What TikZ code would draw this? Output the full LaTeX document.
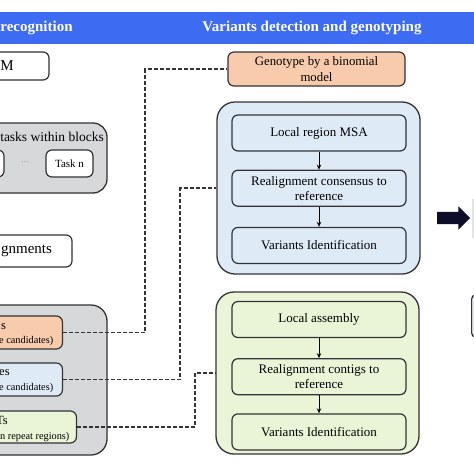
\documentclass[tikz,border=0pt]{standalone}
\usepackage{fontspec}
\setmainfont{Liberation Serif}
\usetikzlibrary{positioning,shapes.arrows,arrows.meta}
\definecolor{hdrblue}{RGB}{61,107,242}
\definecolor{salmon}{RGB}{248,203,173}
\definecolor{paleblue}{RGB}{222,235,247}
\definecolor{palegreen}{RGB}{233,245,214}
\definecolor{panelgrey}{RGB}{214,216,218}
\definecolor{edgegrey}{RGB}{50,50,55}
\definecolor{navy}{RGB}{14,14,42}
\tikzset{
  stepbox/.style={ % one processing step inside a panel
    draw=edgegrey, line width=1.2pt, rounded corners=6pt, fill=paleblue,
    minimum width=174pt, minimum height=36pt, inner sep=2pt, align=center,
    font=\fontsize{13}{15}\selectfont
  },
  panel/.style={ % large rounded container
    draw=edgegrey, line width=1.3pt, rounded corners=18pt
  },
  inbox/.style={ % input box on the left, cut by the edge
    draw=edgegrey, line width=1.2pt, rounded corners=6pt, fill=white, inner sep=0pt
  },
  link/.style={ % dashed connector
    line width=1.4pt, dash pattern=on 4pt off 2pt, edgegrey
  },
  flow/.style={ % small arrow between steps
    -{Stealth[length=5pt,width=4.5pt]}, line width=1pt, black
  }
}

\begin{document}
\begin{tikzpicture}[x=1pt,y=-1pt]
  \useasboundingbox (0,0) rectangle (474,474);
  \clip (0,0) rectangle (474,474);

  % header bar
  \node[fill=hdrblue, minimum width=474pt, minimum height=32pt, inner sep=0pt, anchor=north west] (bar) at (0,12) {};
  \node[text=white, font=\bfseries\fontsize{15}{17}\selectfont] (hdr_left) at (36.5,28) {recognition};
  \node[text=white, font=\bfseries\fontsize{15}{17}\selectfont] (hdr_right) at (312,28) {Variants detection and genotyping};

  % left column
  \node[inbox, minimum width=84pt, minimum height=28pt, font=\fontsize{15}{17}\selectfont] (bam) at (7,66) {M};

  \node[panel, fill=panelgrey, rounded corners=14pt, minimum width=214pt, minimum height=70pt] (blocks) at (0,158) {};
  \node[font=\fontsize{13.5}{15}\selectfont] (blocks_title) at (52,137) {tasks within blocks};
  \node[inbox, minimum width=48pt, minimum height=27pt] (task_a) at (-20,163.5) {};
  \node[inbox, minimum width=47pt, minimum height=27pt, font=\fontsize{11}{12}\selectfont] (task_n) at (69.5,163.5) {Task n};
  \node[text=gray, font=\fontsize{8}{9}\selectfont] (task_dots) at (25,162) {\dots};

  \node[inbox, minimum width=91pt, minimum height=32pt, font=\fontsize{15}{17}\selectfont] (aln) at (26.5,251) {gnments};

  \node[panel, fill=panelgrey, rounded corners=16pt, minimum width=214pt, minimum height=150pt] (cands) at (0,380) {};
  \node[inbox, fill=salmon, minimum width=80pt, minimum height=33pt, anchor=east] (snv) at (63,332.5) {};
  \node[inbox, fill=paleblue, minimum width=80pt, minimum height=33pt, anchor=east] (indel) at (63,379.5) {};
  \node[inbox, fill=palegreen, minimum width=94pt, minimum height=32pt, anchor=east] (str) at (77,427) {};
  \node[anchor=west, align=left, inner sep=0pt, font=\fontsize{10.3}{14.5}\selectfont] (snv_text) at (-1,334.5)
    {\hspace{2pt}{\fontsize{12.5}{14}\selectfont s}\\e candidates)};
  \node[anchor=west, align=left, inner sep=0pt, font=\fontsize{10.3}{14.5}\selectfont] (indel_text) at (-1,381)
    {{\fontsize{12.5}{14}\selectfont es}\\e candidates)};
  \node[anchor=west, align=left, inner sep=0pt, font=\fontsize{10.3}{14.5}\selectfont] (str_text) at (0,429)
    {\hspace{-4pt}{\fontsize{12.5}{14}\selectfont Ts}\\n repeat regions)};

  % right column
  \node[stepbox, fill=salmon, minimum width=177pt, minimum height=34pt, font=\fontsize{12.8}{15.5}\selectfont] (geno) at (316.5,69) {Genotype by a binomial\\model};

  \node[panel, fill=paleblue, minimum width=203pt, minimum height=172pt] (msa_panel) at (318.5,188) {};
  \node[stepbox] (msa) at (319,133) {Local region MSA};
  \node[stepbox, below=18pt of msa] (consensus) {Realignment consensus to\\reference};
  \node[stepbox, below=20pt of consensus] (ident_a) {Variants Identification};
  \draw[flow] (msa) -- (consensus);
  \draw[flow] (consensus) -- (ident_a);

  \node[panel, fill=palegreen, minimum width=203pt, minimum height=162pt] (asm_panel) at (317.5,373) {};
  \node[stepbox, fill=palegreen] (asm) at (319,319.5) {Local assembly};
  \node[stepbox, fill=palegreen, below=20pt of asm] (contigs) {Realignment contigs to\\reference};
  \node[stepbox, fill=palegreen, below=18pt of contigs] (ident_b) {Variants Identification};
  \draw[flow] (asm) -- (contigs);
  \draw[flow] (contigs) -- (ident_b);

  % dashed links from the candidates to the detectors
  \coordinate (bend_a) at (145,0);
  \coordinate (bend_b) at (180,0);
  \coordinate (bend_c) at (195,0);
  \draw[link] (snv.east) -| (bend_a |- geno.west) -- (geno.west);
  \draw[link] (indel.east) -| (bend_b |- msa_panel.west) -- (msa_panel.west);
  \draw[link] (str.east) -| (bend_c |- asm_panel.west) -- (asm_panel.west);

  % towards the next stage
  \node[single arrow, fill=navy, minimum height=33pt, single arrow head extend=5.5pt, single arrow head indent=0pt, inner sep=0pt] (to_next) at (450.5,218) {\rule{0pt}{12pt}};
  \node[fill=panelgrey!70, minimum width=20pt, minimum height=39pt, inner sep=0pt, anchor=west] (next_top) at (471.5,218.5) {};
  \node[inbox, fill=panelgrey!60, rounded corners=4pt, minimum width=20pt, minimum height=42pt, anchor=west] (next_bottom) at (471,316) {};
\end{tikzpicture}
\end{document}
